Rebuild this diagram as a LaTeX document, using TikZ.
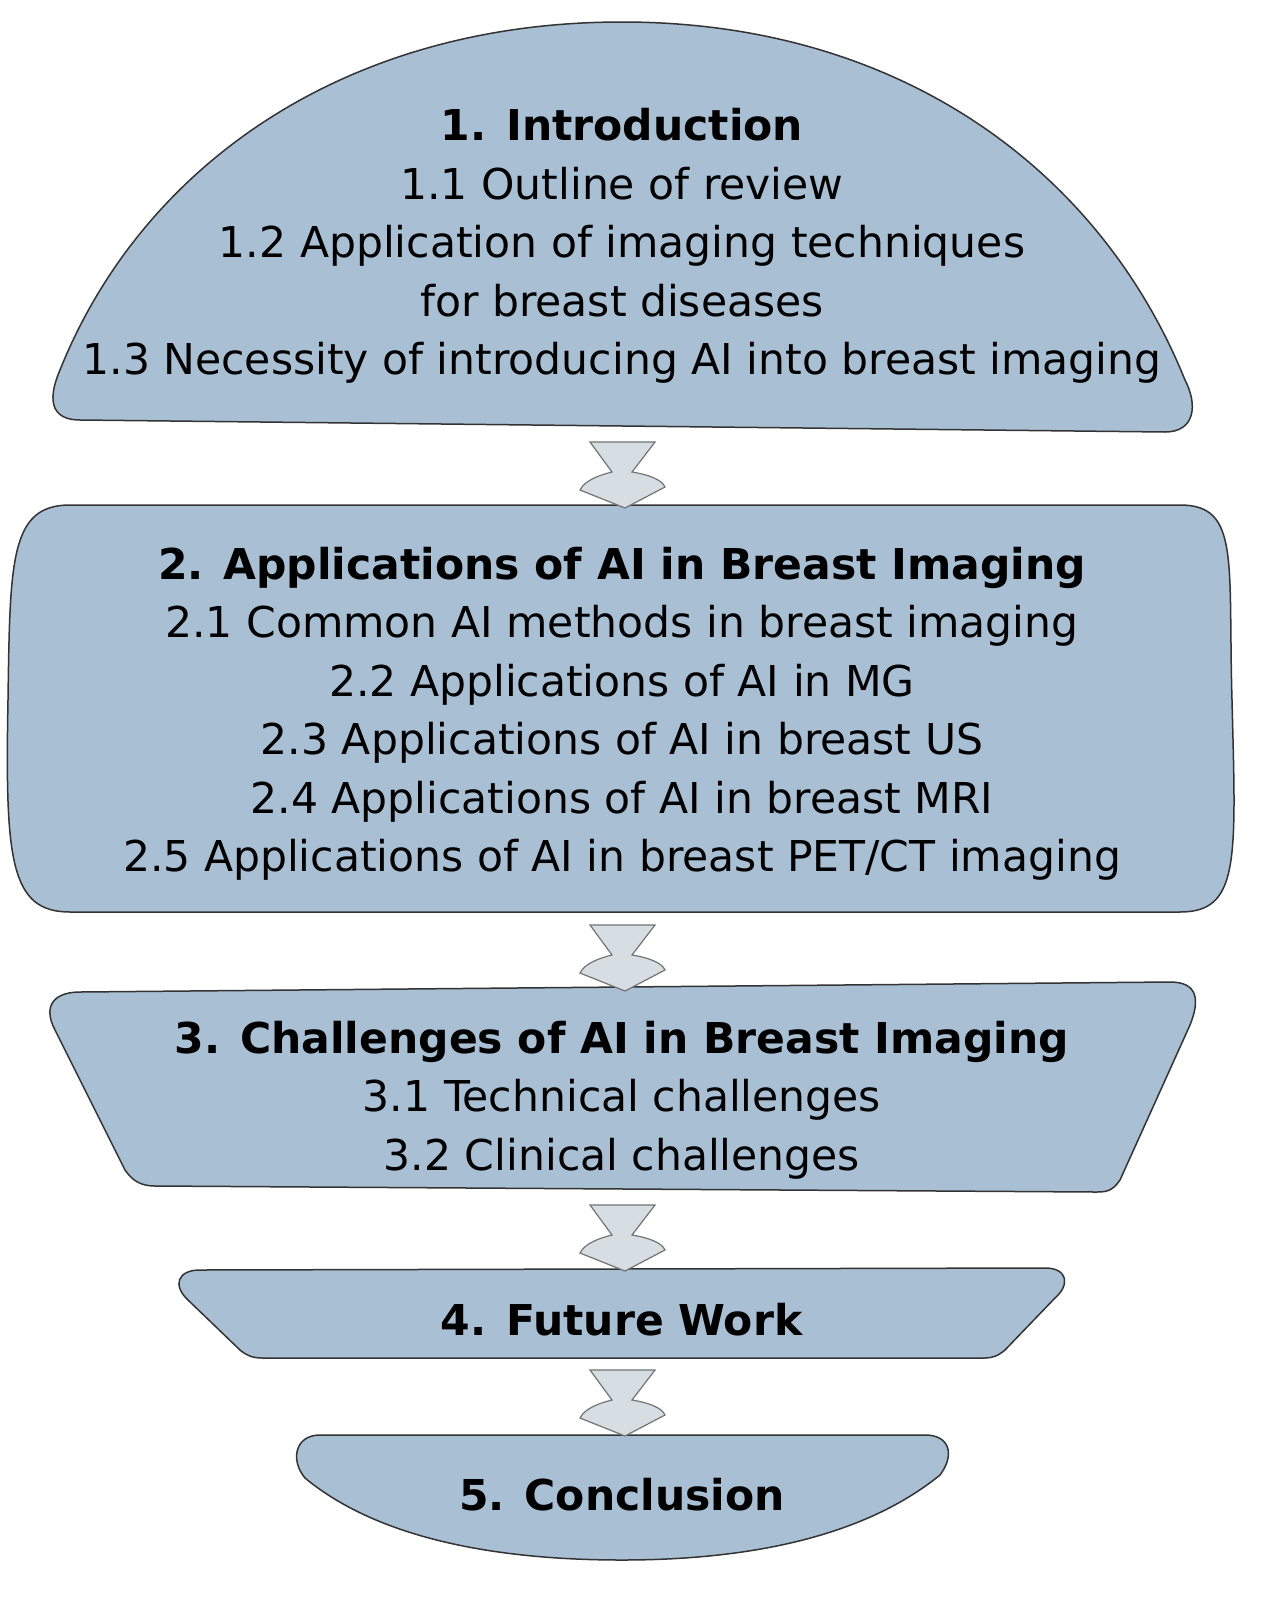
\documentclass[tikz,border=0pt]{standalone}
\usepackage{fontspec}
\setmainfont{DejaVu Sans}
\begin{document}
\begin{tikzpicture}[x=1pt,y=-1pt,
 sec/.style={fill=boxc,draw=black!80,line width=1.5pt},
 arr/.style={fill=arrc,draw=black!55,line width=1.2pt},
 txt/.style={align=center,font=\fontsize{42.5}{58.5}\selectfont}]
\definecolor{boxc}{HTML}{A9BFD3}
\definecolor{arrc}{HTML}{D6DEE4}
\useasboundingbox (0,0) rectangle (1270,1601);
% box 1
\draw[sec] (80,420) -- (1165,432) .. controls (1195,432) and (1198,405) .. (1185,380)
  .. controls (1100,170) and (900,22) .. (622,22) .. controls (340,22) and (140,170) .. (60,370)
  .. controls (45,405) and (55,420) .. (80,420) -- cycle;
\node[txt] (t1) at (622,246) {\textbf{1. Introduction}\\1.1 Outline of review\\1.2 Application of imaging techniques\\for breast diseases\\1.3 Necessity of introducing AI into breast imaging};
% box 2
\draw[sec] (70,505) -- (1180,505) .. controls (1240,505) and (1228,560) .. (1232,700)
  .. controls (1236,860) and (1240,912) .. (1180,912) -- (70,912)
  .. controls (10,912) and (5,860) .. (8,700) .. controls (10,560) and (10,505) .. (70,505) -- cycle;
\node[txt] (t2) at (622,714) {\textbf{2. Applications of AI in Breast Imaging}\\2.1 Common AI methods in breast imaging\\2.2 Applications of AI in MG\\2.3 Applications of AI in breast US\\2.4 Applications of AI in breast MRI\\2.5 Applications of AI in breast PET/CT imaging};
% box 3
\draw[sec] (80,992) -- (1170,982) .. controls (1198,982) and (1200,1000) .. (1190,1025)
  -- (1120,1180) .. controls (1112,1192) and (1105,1192) .. (1095,1192) -- (155,1186)
  .. controls (140,1186) and (132,1180) .. (125,1170) -- (55,1030)
  .. controls (42,1005) and (55,992) .. (80,992) -- cycle;
\node[txt] (t3) at (622,1100) {\textbf{3. Challenges of AI in Breast Imaging}\\3.1 Technical challenges\\3.2 Clinical challenges};
% box 4
\draw[sec] (200,1270) -- (1045,1268) .. controls (1068,1268) and (1070,1285) .. (1055,1298)
  -- (1005,1350) .. controls (998,1356) and (992,1358) .. (985,1358) -- (262,1358)
  .. controls (252,1358) and (246,1355) .. (240,1350) -- (188,1300)
  .. controls (172,1285) and (178,1270) .. (200,1270) -- cycle;
\node[txt] (t4) at (622,1320) {\textbf{4. Future Work}};
% box 5
\draw[sec] (320,1435) -- (925,1435) .. controls (950,1435) and (955,1455) .. (940,1475)
  .. controls (860,1540) and (740,1560) .. (622,1560) .. controls (500,1560) and (380,1540) .. (305,1478)
  .. controls (290,1460) and (295,1435) .. (320,1435) -- cycle;
\node[txt] (t5) at (622,1495) {\textbf{5. Conclusion}};
% arrows
\foreach \y/\n in {442/a1,925/a2,1205/a3,1370/a4}{
 \draw[arr] (590,\y) -- (655,\y) -- (632,\y+30) .. controls (650,\y+33) and (662,\y+38) .. (665,\y+45)
  -- (625,\y+66) -- (580,\y+48) .. controls (585,\y+38) and (600,\y+33) .. (612,\y+30) -- cycle;
 \coordinate (\n) at (622,\y);
}
\end{tikzpicture}
\end{document}
